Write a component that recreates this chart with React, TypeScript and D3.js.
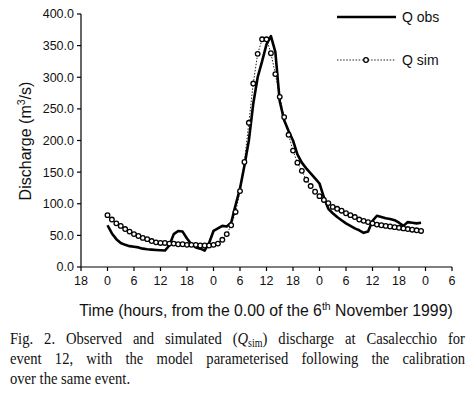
import React, { useEffect, useRef } from 'react';
import { scaleLinear, line, range, select } from 'd3';

// hours from 0.00 of 6 Nov 1999, hourly values (m3/s)
const hours = range(0, 72);
const qObs = [
  66, 53, 44, 38, 35, 33, 32, 31, 29, 28, 27.5, 27, 26.5, 26, 34, 52, 57, 56, 45, 36,
  31, 29, 26, 38, 57, 61, 65, 64, 70, 98, 124, 160, 200, 258, 300, 325, 352, 365, 340, 262,
  232, 215, 200, 178, 165, 156, 148, 140, 132, 110, 92, 85, 79, 74, 69, 65, 61, 58, 54, 56,
  73, 81, 79, 77, 76, 74, 70, 65, 71, 70, 69, 70,
];
const qSim = [
  82, 75, 69, 65, 60, 56, 52, 49, 46, 44, 41, 39, 38, 38, 37, 37, 36, 36, 35, 35,
  35, 34, 34, 34, 35, 37, 43, 52, 66, 87, 120, 166, 228, 290, 337, 360, 360, 338, 305, 269,
  237, 209, 184, 165, 152, 138, 128, 119, 112, 106, 101, 95, 92, 89, 85, 82, 79, 75, 73, 71,
  69, 67, 66, 65, 64, 63, 62, 61, 60, 59, 58, 57,
];
const xTicks = range(-6, 79, 6);
const xTickLabels = xTicks.map(h => String(((h % 24) + 24) % 24));
const yTicks = range(0, 401, 50);
const legendLabels = ['Q obs', 'Q sim'];

const captionLines = [
  { words: ['Fig.', '2.', 'Observed', 'and', 'simulated', '(Qsim)', 'discharge', 'at', 'Casalecchio', 'for'], justify: true },
  { words: ['event', '12,', 'with', 'the', 'model', 'parameterised', 'following', 'the', 'calibration'], justify: true },
  { words: ['over', 'the', 'same', 'event.'], justify: false },
];

const W = 474;
const H = 396;
const sans = 'Arial, "Liberation Sans", Helvetica, sans-serif';
const serif = '"Times New Roman", "Liberation Serif", Times, serif';
const capScale = 0.87; // the scanned caption is a bit condensed

export default function App() {
  const capRef = useRef<SVGGElement>(null);

  const x = scaleLinear().domain([-6, 78]).range([81, 452]);
  const y = scaleLinear().domain([0, 400]).range([267, 14]);

  const obsLine = line<number>().x((_, i) => x(hours[i])).y(d => y(d));
  const simLine = line<number>().x((_, i) => x(hours[i])).y(d => y(d));

  useEffect(() => {
    document.body.style.margin = '0';
    if (!capRef.current) return;
    // justify caption words across the full width
    const g = select(capRef.current);
    const span = (465 - 10) / capScale;
    captionLines.forEach((ln, li) => {
      const nodes = g.selectAll<SVGTextElement, unknown>(`text.w${li}`).nodes();
      const widths = nodes.map(n => n.getComputedTextLength());
      const total = widths.reduce((a, b) => a + b, 0);
      const gap = ln.justify ? (span - total) / (nodes.length - 1) : 4.2;
      let cx = 0;
      nodes.forEach((n, i) => {
        n.setAttribute('x', String(cx));
        cx += widths[i] + gap;
      });
    });
  }, []);

  return (
    <svg width={W} height={H} style={{ display: 'block', background: '#fff' }}>
      {/* series */}
      <path d={simLine(qSim) || ''} fill="none" stroke="#222" strokeWidth={1} strokeDasharray="1.5,1.6" />
      <path d={obsLine(qObs) || ''} fill="none" stroke="#000" strokeWidth={2.6} strokeLinejoin="round" />
      {qSim.map((d, i) => (
        <circle key={i} cx={x(hours[i])} cy={y(d)} r={2.3} fill="#fff" stroke="#000" strokeWidth={1.3} />
      ))}

      {/* y axis */}
      <line x1={81} x2={81} y1={y(400)} y2={y(0)} stroke="#000" strokeWidth={1.2} />
      {yTicks.map(t => (
        <g key={t}>
          <line x1={77} x2={81} y1={y(t)} y2={y(t)} stroke="#000" strokeWidth={1.2} />
          <text x={74} y={y(t)} dy="0.35em" textAnchor="end" fontFamily={sans} fontSize={12.5} fill="#111">
            {t.toFixed(1)}
          </text>
        </g>
      ))}
      {/* x axis */}
      <line x1={x(-6)} x2={x(78)} y1={y(0)} y2={y(0)} stroke="#000" strokeWidth={1.2} />
      {xTicks.map((t, i) => (
        <g key={t}>
          <line x1={x(t)} x2={x(t)} y1={y(0)} y2={y(0) + 4} stroke="#000" strokeWidth={1.2} />
          <text x={x(t)} y={285} textAnchor="middle" fontFamily={sans} fontSize={12.5} fill="#111">
            {xTickLabels[i]}
          </text>
        </g>
      ))}

      {/* axis titles */}
      <text transform="translate(31,141) rotate(-90)" textAnchor="middle" fontFamily={sans} fontSize={16} fill="#111">
        Discharge (m<tspan dy={-6} fontSize={10.5}>3</tspan><tspan dy={6}>/s)</tspan>
      </text>
      <text x={266} y={316} textAnchor="middle" fontFamily={sans} fontSize={15.8} fill="#111">
        Time (hours, from the 0.00 of the 6<tspan dy={-6} fontSize={10.5}>th</tspan><tspan dy={6}> November 1999)</tspan>
      </text>

      {/* legend */}
      <line x1={337} x2={396} y1={17} y2={17} stroke="#000" strokeWidth={2.6} />
      <text x={402} y={17} dy="0.35em" fontFamily={sans} fontSize={14} fill="#111">{legendLabels[0]}</text>
      <line x1={337} x2={396} y1={60} y2={60} stroke="#222" strokeWidth={1} strokeDasharray="1.5,1.6" />
      <circle cx={366} cy={60} r={2.3} fill="#fff" stroke="#000" strokeWidth={1.3} />
      <text x={402} y={60} dy="0.35em" fontFamily={sans} fontSize={14} fill="#111">{legendLabels[1]}</text>

      {/* caption */}
      <g ref={capRef} transform={`translate(10,0) scale(${capScale},1)`} fontFamily={serif} fontSize={16.8} fill="#111">
        {captionLines.map((ln, li) =>
          ln.words.map((w, wi) => (
            <text key={`${li}-${wi}`} className={`w${li}`} x={0} y={344 + li * 20}>
              {w === '(Qsim)' ? (
                <>
                  (<tspan fontStyle="italic">Q</tspan>
                  <tspan fontSize={11.5} dy={3}>sim</tspan>
                  <tspan dy={-3}>)</tspan>
                </>
              ) : (
                w
              )}
            </text>
          ))
        )}
      </g>
    </svg>
  );
}
